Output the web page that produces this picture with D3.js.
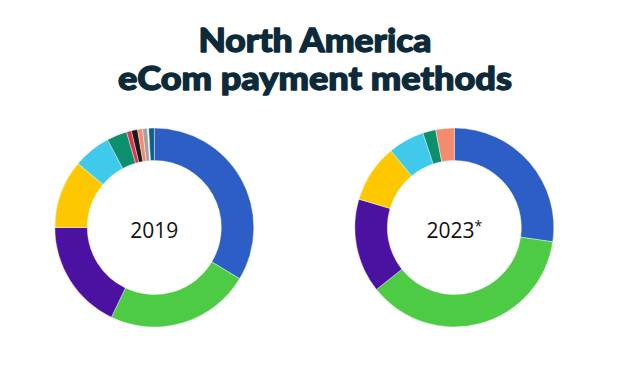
<!DOCTYPE html>
<html>
<head>
<meta charset="utf-8">
<script src="https://cdn.jsdelivr.net/npm/d3@7"></script>
<style>
  body { margin: 0; background: #fff; }
  svg { display: block; }
</style>
</head>
<body>
<div id="viz"></div>
<script>
/***************** Data *********************/
var titleLines = ["North America", "eCom payment methods"];

var methods2019 = ["m1", "m2", "m3", "m4", "m5", "m6", "m7", "m8", "m9", "m10", "m11", "m12"];
var share2019   = [33.6, 23.5, 17.9, 11.1, 6.1, 3.3, 0.8, 1.0, 0.8, 0.8, 0.2, 0.9];
var colors2019  = ["#2c5ec6", "#4dcb45", "#4b12a2", "#fdc800", "#3fc9ea", "#0b8f6d",
                   "#e2334b", "#1c1a1c", "#f38b6c", "#a3a3a5", "#e6e6e6", "#0d5f86"];

var methods2023 = ["m1", "m2", "m3", "m4", "m5", "m6", "m9"];
var share2023   = [27.3, 37.0, 15.3, 9.4, 5.9, 2.1, 3.0];
var colors2023  = ["#2c5ec6", "#4dcb45", "#4b12a2", "#fdc800", "#3fc9ea", "#0b8f6d", "#f38b6c"];

var years = ["2019", "2023"];

/***************** Layout *********************/
var w = 630,
    h = 369,
    outerR = 99.5,
    innerR = 67,
    cy = 227.5,
    centers = [154.3, 454.3],
    title_color = "#0c2a3a";

var svg = d3.select("#viz")
  .append("svg")
  .attr("width", w)
  .attr("height", h);

/* Title */
var titleBase = [52, 90];
var titleWidth = [233, 394];
titleLines.forEach(function(t, i) {
  svg.append("text")
    .attr("x", w / 2)
    .attr("y", titleBase[i])
    .attr("text-anchor", "middle")
    .attr("textLength", titleWidth[i])
    .attr("lengthAdjust", "spacingAndGlyphs")
    .style("font-family", "Lato, 'Open Sans', sans-serif")
    .style("font-weight", 900)
    .style("font-size", "33px")
    .style("fill", title_color)
    .style("stroke", title_color)
    .style("stroke-width", 1.3)
    .style("stroke-linejoin", "round")
    .text(t);
});

/***************** Donuts *********************/
var pie = d3.pie().sort(null).value(function(d) { return d.v; });
var arc = d3.arc().innerRadius(innerR).outerRadius(outerR);

var drawDonut = function(names, values, colors, cx) {
  var data = names.map(function(n, i) { return { name: n, v: values[i], c: colors[i] }; });
  var g = svg.append("g")
    .attr("transform", "translate(" + cx + "," + cy + ")");
  g.selectAll("path")
    .data(pie(data))
    .enter()
    .append("path")
    .attr("d", arc)
    .style("fill", function(d) { return d.data.c; })
    .style("stroke", "#fff")
    .style("stroke-width", 0.4);
  return g;
}

var g1 = drawDonut(methods2019, share2019, colors2019, centers[0]);
var g2 = drawDonut(methods2023, share2023, colors2023, centers[1]);

g1.append("text")
  .attr("y", 10.5)
  .attr("text-anchor", "middle")
  .style("font-family", "'Open Sans', sans-serif")
  .style("font-size", "21px")
  .style("fill", "#111")
  .text(years[0]);

var t2 = g2.append("text")
  .attr("y", 10.5)
  .attr("text-anchor", "middle")
  .style("font-family", "'Open Sans', sans-serif")
  .style("font-size", "21px")
  .style("fill", "#111");
t2.append("tspan").text(years[1]);
t2.append("tspan")
  .attr("dy", -7)
  .style("font-size", "14px")
  .text("*");
</script>
</body>
</html>
